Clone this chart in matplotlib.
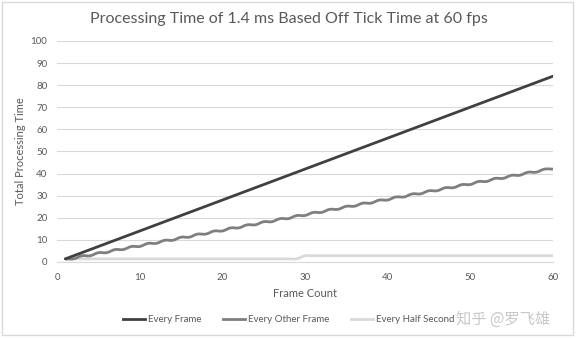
import matplotlib.pyplot as plt
from matplotlib.path import Path
from matplotlib.patches import PathPatch, Rectangle
from matplotlib.lines import Line2D

plt.rcParams['font.family'] = ['Lato', 'DejaVu Sans']

# data
frames = list(range(1, 61))
every_frame = [1.4, 2.8, 4.2, 5.6, 7.0, 8.4, 9.8, 11.2, 12.6, 14.0,
               15.4, 16.8, 18.2, 19.6, 21.0, 22.4, 23.8, 25.2, 26.6, 28.0,
               29.4, 30.8, 32.2, 33.6, 35.0, 36.4, 37.8, 39.2, 40.6, 42.0,
               43.4, 44.8, 46.2, 47.6, 49.0, 50.4, 51.8, 53.2, 54.6, 56.0,
               57.4, 58.8, 60.2, 61.6, 63.0, 64.4, 65.8, 67.2, 68.6, 70.0,
               71.4, 72.8, 74.2, 75.6, 77.0, 78.4, 79.8, 81.2, 82.6, 84.0]
every_other = [1.4, 1.4, 2.8, 2.8, 4.2, 4.2, 5.6, 5.6, 7.0, 7.0,
               8.4, 8.4, 9.8, 9.8, 11.2, 11.2, 12.6, 12.6, 14.0, 14.0,
               15.4, 15.4, 16.8, 16.8, 18.2, 18.2, 19.6, 19.6, 21.0, 21.0,
               22.4, 22.4, 23.8, 23.8, 25.2, 25.2, 26.6, 26.6, 28.0, 28.0,
               29.4, 29.4, 30.8, 30.8, 32.2, 32.2, 33.6, 33.6, 35.0, 35.0,
               36.4, 36.4, 37.8, 37.8, 39.2, 39.2, 40.6, 40.6, 42.0, 42.0]
every_half_sec = [1.4] * 29 + [2.8] * 31

series_names = ['Every Frame', 'Every Other Frame', 'Every Half Second']
series_colors = ['#404040', '#7f7f7f', '#d9d9d9']
x_ticks = [0, 10, 20, 30, 40, 50, 60]
y_ticks = [0, 10, 20, 30, 40, 50, 60, 70, 80, 90, 100]

text_col = '#595959'


def smooth_path(xs, ys):
    # excel style smoothed line (bezier through every point)
    pts = list(zip(xs, ys))
    verts = [pts[0]]
    codes = [Path.MOVETO]
    n = len(pts)
    for i in range(n - 1):
        p0 = pts[i - 1] if i > 0 else pts[i]
        p1 = pts[i]
        p2 = pts[i + 1]
        p3 = pts[i + 2] if i + 2 < n else pts[i + 1]
        c1 = (p1[0] + (p2[0] - p0[0]) / 6, p1[1] + (p2[1] - p0[1]) / 6)
        c2 = (p2[0] - (p3[0] - p1[0]) / 6, p2[1] - (p3[1] - p1[1]) / 6)
        verts += [c1, c2, p2]
        codes += [Path.CURVE4] * 3
    return Path(verts, codes)


fig = plt.figure(figsize=(5.77, 3.38), dpi=100)
ax = fig.add_axes([0.099, 0.225, 0.859, 0.654])

for ys, col in zip([every_half_sec, every_other, every_frame], series_colors[::-1]):
    patch = PathPatch(smooth_path(frames, ys), facecolor='none', edgecolor=col,
                      lw=2, capstyle='round', joinstyle='round', zorder=3)
    ax.add_patch(patch)

ax.set_xlim(0, 60)
ax.set_ylim(0, 100)
ax.set_xticks(x_ticks)
ax.set_yticks(y_ticks)
ax.tick_params(length=0, labelsize=7, colors=text_col)
ax.tick_params(axis='x', pad=8)
ax.tick_params(axis='y', pad=7)
ax.grid(axis='y', color='#d9d9d9', lw=0.8)
ax.set_axisbelow(True)
for s in ['top', 'right', 'left']:
    ax.spines[s].set_visible(False)
ax.spines['bottom'].set_color('#d9d9d9')

ax.set_xlabel('Frame Count', fontsize=8, color=text_col, labelpad=4)
ax.set_ylabel('Total Processing Time', fontsize=8, color=text_col, labelpad=3)
fig.text(0.5, 0.945, 'Processing Time of 1.4 ms Based Off Tick Time at 60 fps',
         ha='center', va='center', fontsize=11.5, color=text_col)

handles = [Line2D([0], [0], color=c, lw=2) for c in series_colors]
fig.legend(handles, series_names, loc='center', bbox_to_anchor=(0.5, 0.055),
           ncol=3, frameon=False, fontsize=7, labelcolor=text_col,
           handlelength=2.3, handletextpad=0.3, columnspacing=2.2)

# chart border
fig.patches.append(Rectangle((0.003, 0.01), 0.99, 0.985, transform=fig.transFigure,
                             fill=False, edgecolor='#d9d9d9', lw=1))

fig.text(0.79, 0.055, '知乎 @罗飞雄', ha='left', va='center', fontsize=11,
         color='#c8c8c8', family=['Noto Sans CJK SC', 'DejaVu Sans'])

fig.savefig('out.png', dpi=100)
